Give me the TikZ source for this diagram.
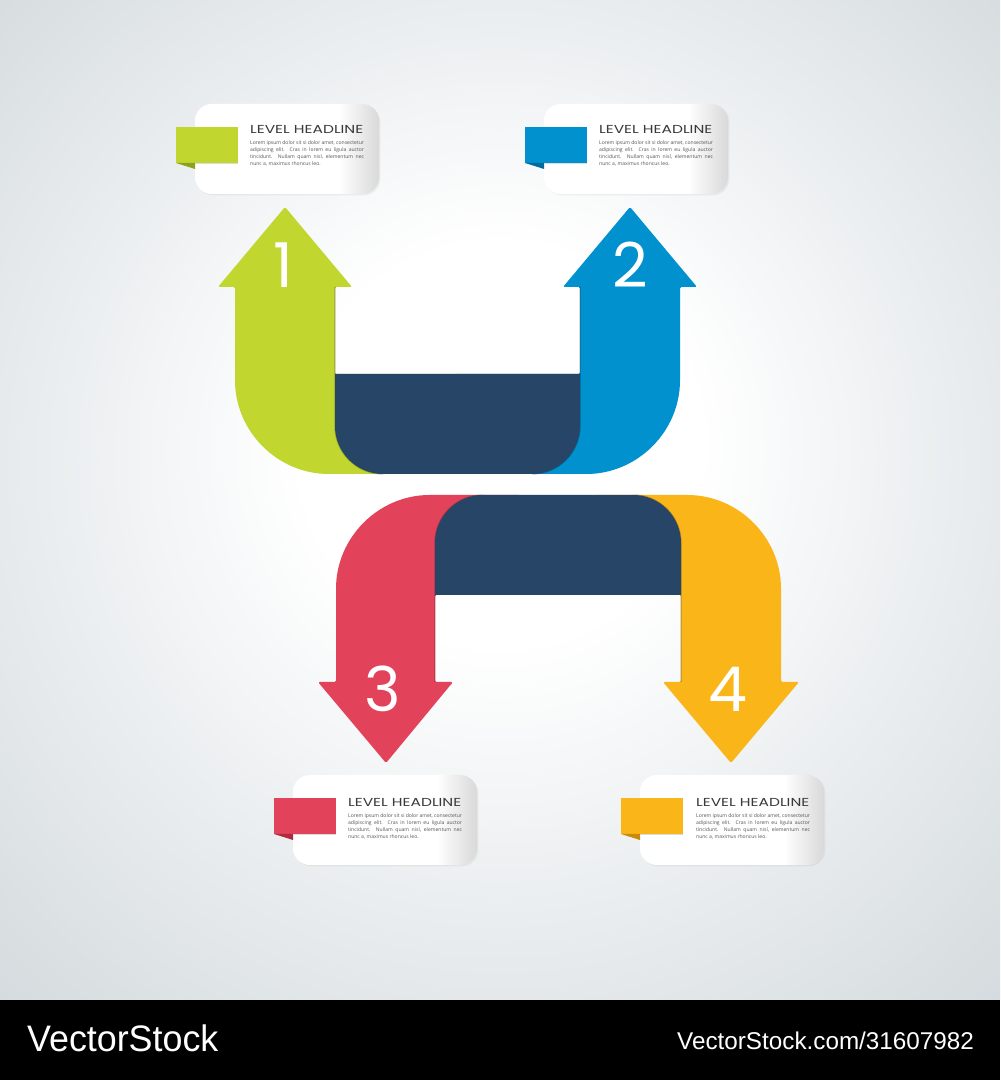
\documentclass[tikz,border=0pt]{standalone}
\usepackage{graphicx}
\usepackage{fontspec}
\setmainfont{Open Sans}
\newfontfamily\headfont{Poppins}
\newfontfamily\markfont{Liberation Sans}
\usepackage{tikz}
\usetikzlibrary{shadows}

\definecolor{limegreen}{HTML}{C1D62E}
\definecolor{limedark}{HTML}{8FA01C}
\definecolor{skyblue}{HTML}{0091CE}
\definecolor{skydark}{HTML}{006B9C}
\definecolor{navyband}{HTML}{274566}
\definecolor{rosered}{HTML}{E2435B}
\definecolor{rosedark}{HTML}{AE2A3E}
\definecolor{ambergold}{HTML}{FAB519}
\definecolor{amberdark}{HTML}{C98A0A}
\definecolor{bgedge}{HTML}{E6EAEC}
\definecolor{bgcorner}{HTML}{D5DBDE}
\definecolor{inkgray}{HTML}{3A3A3A}
\definecolor{bodygray}{HTML}{555555}

\pgfdeclareradialshading{bgglow}{\pgfpoint{0bp}{3.5bp}}{color(0bp)=(white); color(10bp)=(white); color(25bp)=(bgedge); color(36bp)=(bgcorner); color(50bp)=(bgcorner)}
\pgfdeclarehorizontalshading{boxshade}{100bp}{color(0bp)=(white); color(25bp)=(white); color(64bp)=(white); color(75bp)=(black!15); color(100bp)=(black!15)}

\newcommand{\bodylines}{%
\makebox[162pt][s]{Lorem ipsum dolor sit si dolor amet, consectetur}\\
\makebox[162pt][s]{adipiscing elit. Cras in lorem eu ligula auctor}\\
\makebox[162pt][s]{tincidunt. Nullam quam nisl, elementum nec}\\
nunc a, maximus rhoncus leo.}
\newcommand{\headtext}{\resizebox{161pt}{11.5pt}{\headfont LEVEL HEADLINE}}

\begin{document}
\begin{tikzpicture}[x=0.05cm, y=0.05cm,
    arrowfill/.style={rounded corners=2pt},
    innershade/.style={draw=black, opacity=0.22, line width=2pt},
    digit/.style={text=white, inner sep=0pt, font=\headfont\fontsize{88}{88}\selectfont},
    infobox/.style={shading=boxshade, rounded corners=24pt,
        drop shadow={opacity=0.10, shadow xshift=2pt, shadow yshift=-2pt}},
    headline/.style={anchor=west, inner sep=0pt, text=inkgray},
    bodytext/.style={anchor=north west, inner sep=0pt, align=left, text=bodygray, font=\fontsize{7.2}{9.9}\selectfont}]
\useasboundingbox (0,0) rectangle (1000,1080);

% Background
\shade[shading=bgglow] (0,80) rectangle (1000,1080);

% Upper band, arrows 1 and 2
\fill[limegreen, arrowfill] (285,873) -- (352,793) -- (335,793) -- (335,706) -- (460,706)
    -- (460,606) -- (330,606) arc (270:180:95) -- (235,793) -- (218,793) -- cycle;
\fill[skyblue, arrowfill] (630,873) -- (697,793) -- (680,793) -- (680,701) arc (0:-90:95)
    -- (455,606) -- (455,706) -- (580,706) -- (580,793) -- (563,793) -- cycle;
\draw[innershade] (335,793) -- (335,654) arc (180:270:48);
\draw[innershade] (580,793) -- (580,654) arc (0:-90:48);
\fill[navyband] (335,706) -- (335,654) arc (180:270:48) -- (532,606) arc (270:360:48) -- (580,706) -- cycle;
\node[digit] (num1) at (283,815) {1};
\node[digit] (num2) at (630,815) {2};

% Lower band, arrows 3 and 4
\fill[rosered, arrowfill] (386,317) -- (318,398) -- (336,398) -- (336,490) arc (180:90:95)
    -- (520,585) -- (520,485) -- (435,485) -- (435,398) -- (453,398) -- cycle;
\fill[ambergold, arrowfill] (731,317) -- (799,398) -- (781,398) -- (781,490) arc (0:90:95)
    -- (596,585) -- (596,485) -- (681,485) -- (681,398) -- (663,398) -- cycle;
\draw[innershade] (435,398) -- (435,537) arc (180:90:48);
\draw[innershade] (681,398) -- (681,537) arc (0:90:48);
\fill[navyband] (435,485) -- (435,537) arc (180:90:48) -- (633,585) arc (90:0:48) -- (681,485) -- cycle;
\node[digit] (num3) at (383,391) {3};
\node[digit] (num4) at (728,391) {4};

% Box 1
\begin{scope}[shift={(195,976)}]
    \path[infobox] (0,0) rectangle (184,-90);
    \fill[limegreen] (-19,-23) rectangle (43,-59);
    \fill[limedark] (-19,-59) -- (0,-59) -- (0,-65) -- cycle;
    \fill[black!14] (0,-59) rectangle (43,-60.5);
    \node[headline] (head1) at (55,-25) {\headtext};
    \node[bodytext] (body1) at (55,-37) {\bodylines};
\end{scope}

% Box 2
\begin{scope}[shift={(544,976)}]
    \path[infobox] (0,0) rectangle (184,-90);
    \fill[skyblue] (-19,-23) rectangle (43,-59);
    \fill[skydark] (-19,-59) -- (0,-59) -- (0,-65) -- cycle;
    \fill[black!14] (0,-59) rectangle (43,-60.5);
    \node[headline] (head2) at (55,-25) {\headtext};
    \node[bodytext] (body2) at (55,-37) {\bodylines};
\end{scope}

% Box 3
\begin{scope}[shift={(293,305)}]
    \path[infobox] (0,0) rectangle (184,-90);
    \fill[rosered] (-19,-23) rectangle (43,-59);
    \fill[rosedark] (-19,-59) -- (0,-59) -- (0,-65) -- cycle;
    \fill[black!14] (0,-59) rectangle (43,-60.5);
    \node[headline] (head3) at (55,-27) {\headtext};
    \node[bodytext] (body3) at (55,-39) {\bodylines};
\end{scope}

% Box 4
\begin{scope}[shift={(640,305)}]
    \path[infobox] (0,0) rectangle (184,-90);
    \fill[ambergold] (-19,-23) rectangle (43,-59);
    \fill[amberdark] (-19,-59) -- (0,-59) -- (0,-65) -- cycle;
    \fill[black!14] (0,-59) rectangle (43,-60.5);
    \node[headline] (head4) at (56,-27) {\headtext};
    \node[bodytext] (body4) at (56,-39) {\bodylines};
\end{scope}

% Footer strip
\fill[black] (0,0) rectangle (1000,80);
\node[anchor=base west, inner sep=0pt, text=white] (markleft) at (27,28)
    {\resizebox{272pt}{38pt}{\markfont VectorStock}};
\node[anchor=base east, inner sep=0pt, text=white] (markright) at (974,30)
    {\resizebox{422pt}{!}{\markfont VectorStock.com/31607982}};
\end{tikzpicture}
\end{document}
